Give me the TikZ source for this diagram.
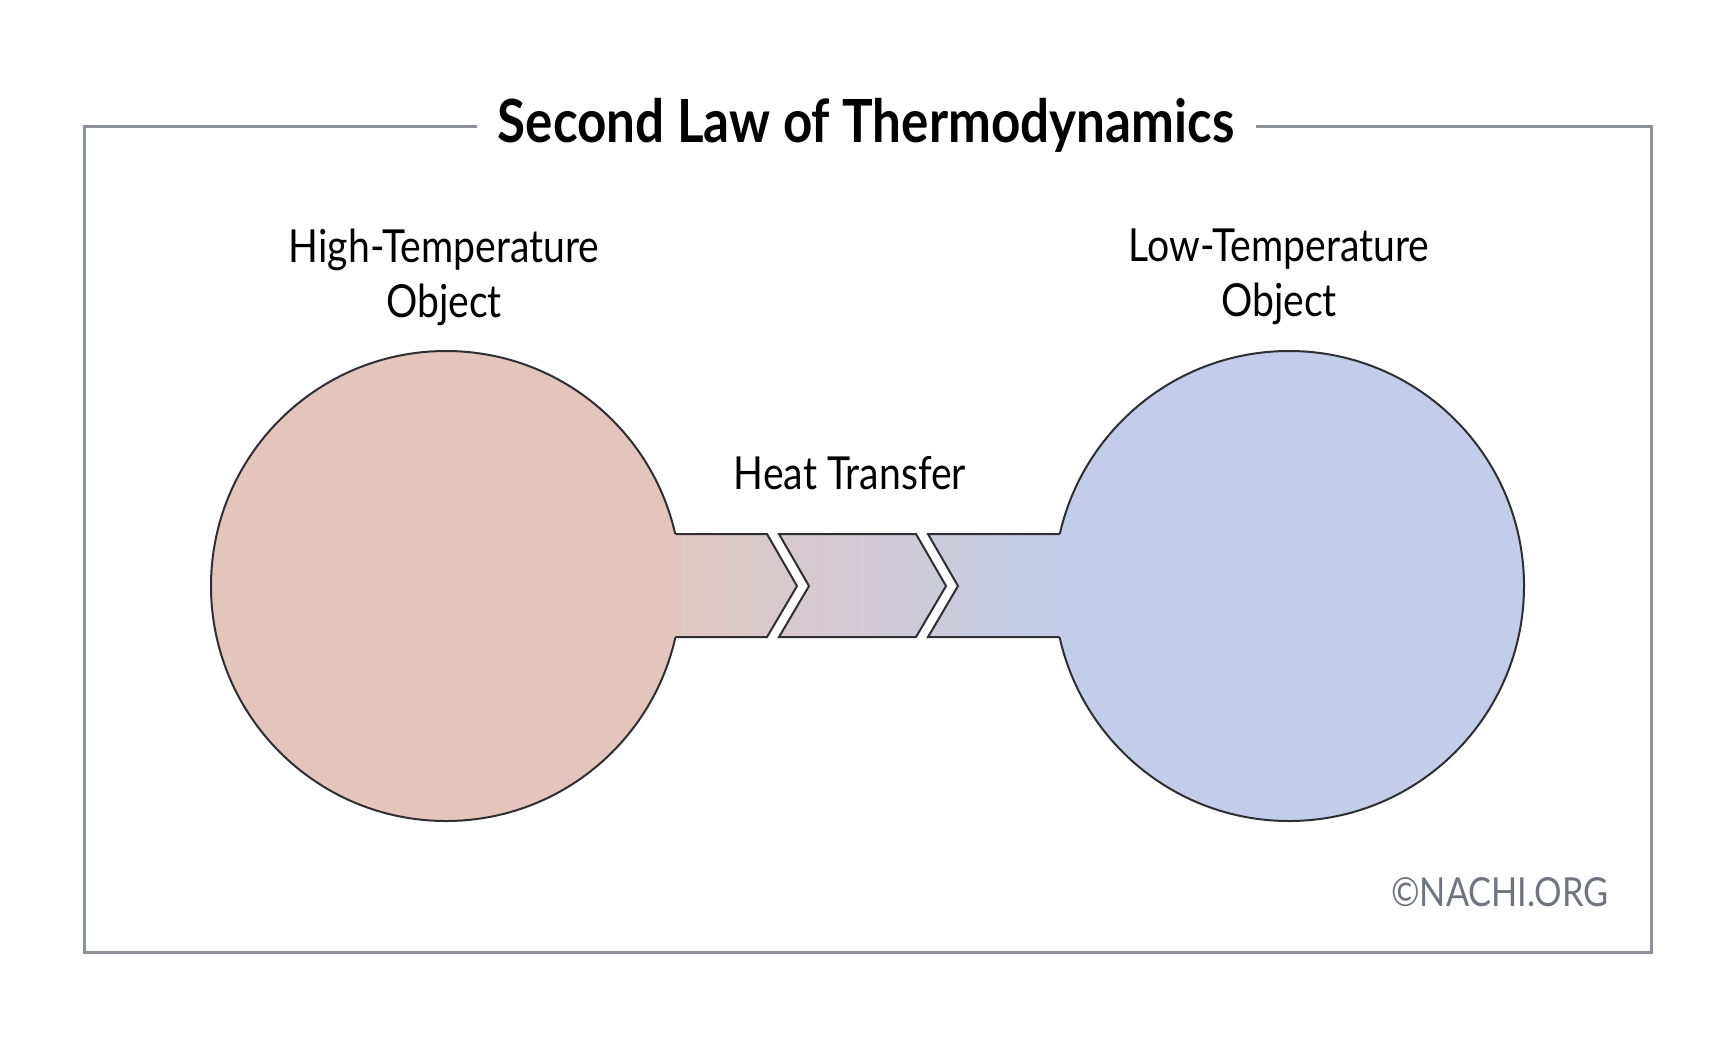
\documentclass[tikz,border=0pt]{standalone}
\usepackage{fontspec}
\setmainfont{Lato}[FakeStretch=0.86]
\newfontfamily\titlefont{Lato}[FakeStretch=0.86,UprightFont=* Bold]
\begin{document}
\begin{tikzpicture}[x=1pt,y=-1pt,
  framecol/.style={draw=framegray,line width=3pt},
  outl/.style={draw=outlinecol,line width=2pt,line join=miter},
  lbl/.style={font=\fontsize{45.5}{55}\selectfont,align=center,text=black,inner sep=0pt},
]
\definecolor{framegray}{HTML}{8E939B}
\definecolor{outlinecol}{HTML}{2E2E33}
\definecolor{hotc}{HTML}{E3C5BC}
\definecolor{coldc}{HTML}{C1CDE9}
\definecolor{hotband}{HTML}{E0C8C3}
\definecolor{coldband}{HTML}{C3CCE6}
\definecolor{credit}{HTML}{6E7580}
\useasboundingbox (0,0) rectangle (1735,1037);
\fill[white] (0,0) rectangle (1735,1037);
% frame
\draw[framecol] (477,126) -- (84,126) -- (84,952) -- (1651,952) -- (1651,126) -- (1256,126);
\node[font=\titlefont\fontsize{59.5}{66}\selectfont,inner sep=0pt] (title) at (866,125) {Second Law of Thermodynamics};
% circles
\node[circle,minimum size=470pt,inner sep=0pt,fill=hotc,outl] (hot) at (446,586) {};
\node[circle,minimum size=470pt,inner sep=0pt,fill=coldc,outl] (cold) at (1289,586) {};
% band fill
\begin{scope}
\clip (650,534) -- (767,534) -- (797,586) -- (767,637) -- (650,637) -- cycle
      (779,534) -- (916,534) -- (946,586) -- (916,637) -- (779,637) -- (809,586) -- cycle
      (928,534) -- (1085,534) -- (1085,637) -- (928,637) -- (958,586) -- cycle;
\fill[hotc] (650,530) rectangle (682,640);
\shade[left color=hotband,right color=coldband] (681,530) rectangle (1055,640);
\fill[coldc] (1054,530) rectangle (1085,640);
\end{scope}
% band outlines
\coordinate (b1a) at (675.3,534);
\coordinate (b1b) at (675.3,637);
\coordinate (b3a) at (1059.7,534);
\coordinate (b3b) at (1059.7,637);
\draw[outl] (b1a) -- (767,534) -- (797,586) -- (767,637) -- (b1b);
\draw[outl] (779,534) -- (916,534) -- (946,586) -- (916,637) -- (779,637) -- (809,586) -- cycle;
\draw[outl] (b3a) -- (928,534) -- (958,586) -- (928,637) -- (b3b);
% labels
\node[lbl] (hotlbl) at (444,277) {High-Temperature\\Object};
\node[lbl] (coldlbl) at (1279,277) {Low-Temperature\\Object};
\node[lbl] (heat) at (850,473) {Heat Transfer};
\node[font=\fontsize{40}{46}\selectfont,text=credit,inner sep=0pt,anchor=east] (credit) at (1609,892) {©NACHI.ORG};
\end{tikzpicture}
\end{document}
